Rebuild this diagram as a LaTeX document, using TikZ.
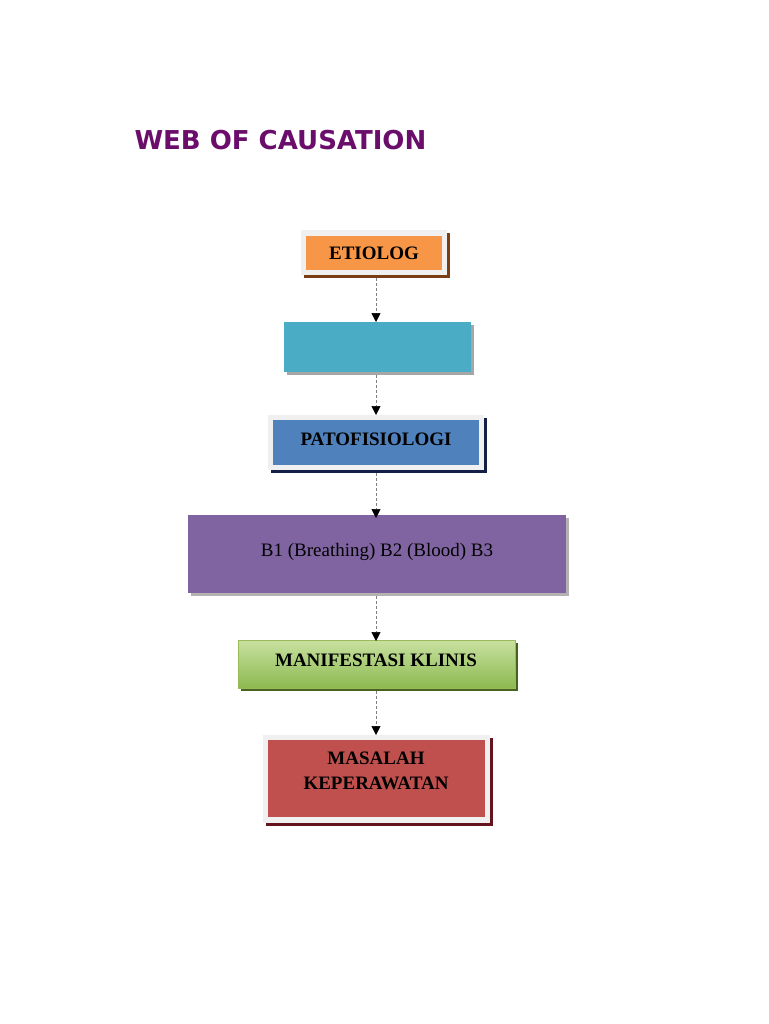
\documentclass[tikz,border=0pt]{standalone}
\usepackage{fontspec}
\setmainfont{Liberation Serif}
\newfontfamily\titlefont{DejaVu Sans}
\usetikzlibrary{arrows.meta,shadings}
\definecolor{eshad}{RGB}{122,62,20}
\definecolor{eorange}{RGB}{247,150,70}
\definecolor{ecyan}{RGB}{75,172,198}
\definecolor{pshad}{RGB}{20,30,70}
\definecolor{pblue}{RGB}{79,129,189}
\definecolor{bpurple}{RGB}{128,100,162}
\definecolor{mshad}{RGB}{70,100,30}
\definecolor{mtop}{RGB}{200,225,160}
\definecolor{mbot}{RGB}{140,185,80}
\definecolor{mline}{RGB}{155,187,89}
\definecolor{kshad}{RGB}{100,20,30}
\definecolor{kred}{RGB}{192,80,77}
\definecolor{ttl}{RGB}{107,14,107}
\definecolor{frame}{RGB}{240,240,240}
\begin{document}
\begin{tikzpicture}[x=1pt,y=-1pt,
  lbl/.style={font=\bfseries\fontsize{19}{22}\selectfont, align=center, text=black},
  conn/.style={draw=gray, dash pattern=on 3pt off 2pt, line width=0.5pt, -{Triangle[length=9pt,width=9pt,fill=black,color=black]}}]
\useasboundingbox (0,0) rectangle (768,1024);
\node[anchor=west, font=\titlefont\bfseries\fontsize{26}{30}\selectfont, text=ttl] (title) at (131,140) {WEB OF CAUSATION};
% ETIOLOG
\fill[eshad] (304,233) rectangle (450,278);
\fill[frame] (301,230) rectangle (447,275);
\fill[eorange] (306,236) rectangle (442,270);
\node[lbl] (e) at (374,253) {ETIOLOG};
% cyan
\fill[gray!70] (287,325) rectangle (474,375);
\fill[ecyan] (284,322) rectangle (471,372);
\coordinate (c) at (377,347);
% PATOFISIOLOGI
\fill[pshad] (271,418) rectangle (487,473);
\fill[frame] (268,415) rectangle (484,470);
\fill[pblue] (273,420) rectangle (479,465);
\node[lbl] (p) at (376,439) {PATOFISIOLOGI};
% purple
\fill[gray!60] (191,518) rectangle (569,596);
\fill[bpurple] (188,515) rectangle (566,593);
\node[font=\fontsize{19}{22}\selectfont] (b) at (377,552) {B1 (Breathing) B2 (Blood) B3};
% MANIFESTASI
\fill[mshad] (241,643) rectangle (518,691);
\shade[top color=mtop, bottom color=mbot] (238,640) rectangle (515,688);
\draw[mline, line width=0.8pt] (238,640) rectangle (515,688);
\node[lbl] (m) at (376,660) {MANIFESTASI KLINIS};
% MASALAH
\fill[kshad] (266,738) rectangle (493,826);
\fill[frame] (263,735) rectangle (490,823);
\fill[kred] (268,740) rectangle (485,817);
\node[lbl, font=\bfseries\fontsize{19}{25}\selectfont] (k) at (376,771) {MASALAH\\KEPERAWATAN};
% connectors
\coordinate (a1s) at (376,278); \coordinate (a1e) at (376,322);
\coordinate (a2s) at (376,375); \coordinate (a2e) at (376,415);
\coordinate (a3s) at (376,473); \coordinate (a3e) at (376,518);
\coordinate (a4s) at (376,596); \coordinate (a4e) at (376,641);
\coordinate (a5s) at (376,691); \coordinate (a5e) at (376,735);
\draw[conn] (a1s) -- (a1e);
\draw[conn] (a2s) -- (a2e);
\draw[conn] (a3s) -- (a3e);
\draw[conn] (a4s) -- (a4e);
\draw[conn] (a5s) -- (a5e);
\end{tikzpicture}
\end{document}
